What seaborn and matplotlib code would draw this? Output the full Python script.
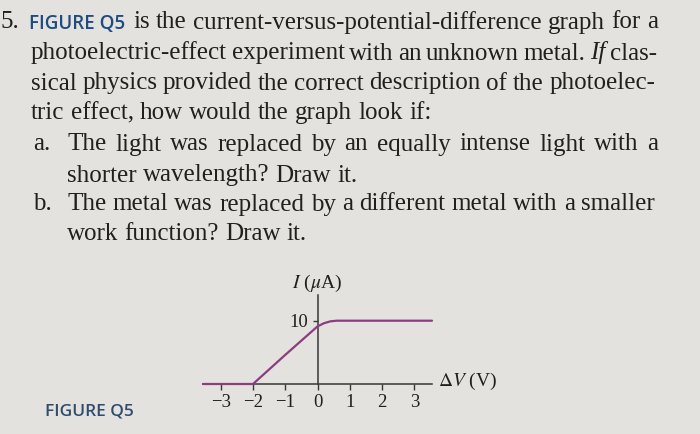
import matplotlib
matplotlib.use("Agg")
import matplotlib.pyplot as plt
import seaborn as sns
import pandas as pd

W, H = 700, 434

# curve (current in microamps vs potential difference in volts)
volts = [-3.55, -2.0, -1.0, 0.0, 0.2, 0.4, 0.6, 3.55]
current = [0.0, 0.0, 4.6, 9.1, 9.6, 9.9, 10.0, 10.0]

x_ticks = [-3, -2, -1, 0, 1, 2, 3]
x_tick_labels = ["\u22123", "\u22122", "\u22121", "0", "1", "2", "3"]
y_ticks = [10]
y_tick_labels = ["10"]

y_label = r"$I$ ($\mu$A)"
x_label = r"$\Delta V$ (V)"
figure_tag = "FIGURE Q5"

# question text, one entry per printed line (_word_ = italic)
question_lines = [
    "is the current-versus-potential-difference graph for a",
    "photoelectric-effect experiment with an unknown metal. _If_ clas-",
    "sical physics provided the correct description of the photoelec-",
    "tric effect, how would the graph look if:",
    "The light was replaced by an equally intense light with a",
    "shorter wavelength? Draw it.",
    "The metal was replaced by a different metal with a smaller",
    "work function? Draw it.",
]
# layout of those lines in pixels: left, right (None = ragged), baseline
line_layout = [
    (133, 658, 28.5),
    (31, 657, 59.5),
    (31, 655, 89.5),
    (31, None, 119),
    (67, 658, 150.5),
    (67, None, 181.5),
    (67, 655, 210.5),
    (67, None, 240),
]

PAPER = "#e4e2de"
INK = "#221f1e"
AXIS = "#3a3737"
CURVE = "#8c3c80"
BLUE = "#1f4b80"
TAG = "#2f4c6c"

sns.set_theme(style="white")
plt.rcParams["font.family"] = ["Liberation Serif", "DejaVu Serif"]
plt.rcParams["mathtext.fontset"] = "stix"

fig = plt.figure(figsize=(W / 100, H / 100), dpi=100)
fig.patch.set_facecolor(PAPER)
renderer = fig.canvas.get_renderer()


def fx(px):
    return px / W


def fy(py):
    return 1 - py / H


def put_line(text, left, right, base, size=18):
    words = text.split(" ")
    objs = []
    for w in words:
        style = "normal"
        if w.startswith("_") and w.endswith("_"):
            w = w[1:-1]
            style = "italic"
        objs.append(fig.text(0, fy(base), w, fontsize=size, color=INK,
                             style=style, va="baseline", ha="left"))
    widths = [t.get_window_extent(renderer).width for t in objs]
    if right is None:
        space = objs[0].get_fontsize() * 100 / 72 * 0.25
    else:
        space = (right - left - sum(widths)) / (len(objs) - 1)
    x = left
    for t, wd in zip(objs, widths):
        t.set_x(fx(x))
        x += wd + space


# ---- question text ----
fig.text(fx(1), fy(28.5), "5.", fontsize=18, color=INK, va="baseline")
fig.text(fx(29), fy(28.5), figure_tag, fontsize=13.5, color=BLUE,
         family=["Open Sans", "DejaVu Sans"], fontweight="semibold", va="baseline")
fig.text(fx(33), fy(150.5), "a.", fontsize=18, color=INK, va="baseline")
fig.text(fx(33), fy(210.5), "b.", fontsize=18, color=INK, va="baseline")
for text, (left, right, base) in zip(question_lines, line_layout):
    put_line(text, left, right, base)

fig.text(fx(45), fy(416), figure_tag, fontsize=12.5, color=TAG,
         family=["Open Sans", "DejaVu Sans"], fontweight="semibold", va="baseline")

# ---- graph ----
ax = fig.add_axes([fx(203), fy(384), (432 - 203) / W, (384 - 295) / H])
ax.set_facecolor("none")
df = pd.DataFrame({"dV": volts, "I": current})
sns.lineplot(data=df, x="dV", y="I", ax=ax, color=CURVE, linewidth=1.6,
             zorder=3, clip_on=False)
ax.set_xlim(-3.55, 3.55)
ax.set_ylim(0, 14.06)
ax.set_xlabel("")
ax.set_ylabel("")

for side in ["top", "right"]:
    ax.spines[side].set_visible(False)
ax.spines["left"].set_position(("data", 0))
for side in ["left", "bottom"]:
    ax.spines[side].set_color(AXIS)
    ax.spines[side].set_linewidth(1.1)

ax.set_xticks(x_ticks, x_tick_labels)
ax.set_yticks(y_ticks, y_tick_labels)
ax.tick_params(axis="x", bottom=True, direction="out", length=4, width=1,
               color=AXIS, pad=3.5, labelsize=13.5, labelcolor=INK)
ax.tick_params(axis="y", left=True, direction="out", length=3.5, width=1,
               color=AXIS, pad=3, labelsize=13.5, labelcolor=INK)

ax.text(0, 1.135, y_label, transform=ax.get_xaxis_transform(), ha="center",
        va="center", fontsize=14, color=INK)
ax.text(1.026, 0.034, x_label, transform=ax.transAxes, ha="left",
        va="center", fontsize=14, color=INK)

fig.savefig("out.png", dpi=100, facecolor=PAPER)
